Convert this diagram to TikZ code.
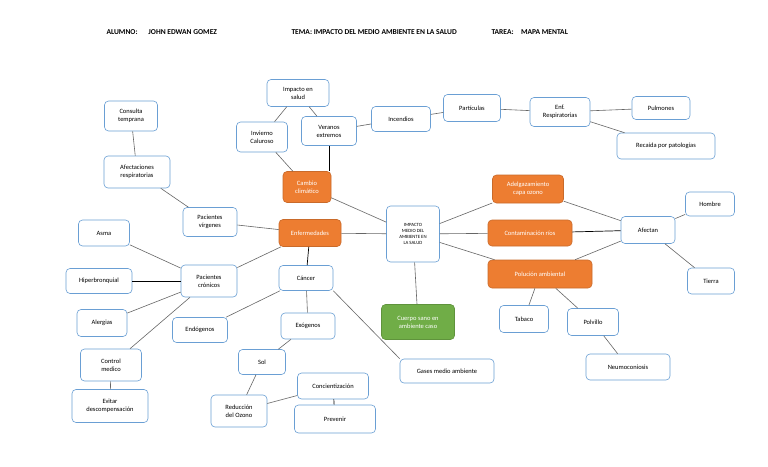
\documentclass[tikz,border=0pt]{standalone}
\usepackage{fontspec}
\setmainfont{Carlito}
\definecolor{borg}{HTML}{ED7D31}
\definecolor{bgrn}{HTML}{70AD47}
\definecolor{bblu}{HTML}{6A9FD4}
\begin{document}
\begin{tikzpicture}[x=1pt,y=-1pt,
  box/.style={draw=bblu, fill=white, rounded corners=4pt, line width=0.6pt,
    align=center, inner sep=1pt, font=\fontsize{6.5}{8}\selectfont},
  org/.style={box, draw=borg!85!black, fill=borg, text=white},
  grn/.style={box, draw=bgrn!85!black, fill=bgrn, text=white},
  ln/.style={draw=black!60, line width=0.6pt},
  dk/.style={draw=black, line width=0.7pt}]
\useasboundingbox (0,0) rectangle (768,466);
\fill[white] (0,0) rectangle (768,466);
\begin{scope}[font=\fontsize{7.5}{9}\selectfont\bfseries]
\node[anchor=west] (h1) at (103,32) {ALUMNO:\quad\ \ JOHN EDWAN GOMEZ};
\node[anchor=west] (h2) at (288,32) {TEMA: IMPACTO DEL MEDIO AMBIENTE EN LA SALUD};
\node[anchor=west] (h3) at (488,32) {TAREA:\quad MAPA MENTAL};
\end{scope}
% nodes
\node[box,minimum width=53,minimum height=56,font=\fontsize{4.8}{6.3}\selectfont] (c) at (413,234) {IMPACTO\\MEDIO DEL\\AMBIENTE EN\\LA SALUD};
\node[box,minimum width=62,minimum height=27] (is) at (298,93) {Impacto en\\salud};
\node[box,minimum width=51,minimum height=30] (inv) at (262,137) {Invierno\\Caluroso};
\node[box,minimum width=55,minimum height=29] (ver) at (329,131) {Veranos\\extremos};
\node[org,minimum width=48,minimum height=31] (cc) at (307,187) {Cambio\\climático};
\node[box,minimum width=59,minimum height=25] (inc) at (401,119) {Incendios};
\node[box,minimum width=57,minimum height=27] (par) at (472,108) {Partículas};
\node[box,minimum width=60,minimum height=29] (enf) at (560,112) {Enf.\\Respiratorias};
\node[box,minimum width=58,minimum height=23] (pul) at (661,108) {Pulmones};
\node[box,minimum width=98,minimum height=26] (rec) at (666,146) {Recaída por patologías};
\node[org,minimum width=71,minimum height=28] (ade) at (528,189) {Adelgazamiento\\capa ozono};
\node[org,minimum width=84,minimum height=26] (rio) at (530,233) {Contaminación ríos};
\node[org,minimum width=104,minimum height=28] (pol) at (540,274) {Polución ambiental};
\node[box,minimum width=54,minimum height=27] (afe) at (648,230) {Afectan};
\node[box,minimum width=49,minimum height=24] (hom) at (710,204) {Hombre};
\node[box,minimum width=47,minimum height=26] (tie) at (711,281) {Tierra};
\node[box,minimum width=49,minimum height=27] (tab) at (524,319) {Tabaco};
\node[box,minimum width=51,minimum height=27] (pvl) at (593,322) {Polvillo};
\node[box,minimum width=84,minimum height=26] (neu) at (628,367) {Neumoconiosis};
\node[grn,minimum width=73,minimum height=35] (cs) at (418,322) {Cuerpo sano en\\ambiente caso};
\node[box,minimum width=94,minimum height=24] (gas) at (447,371) {Gases medio ambiente};
\node[org,minimum width=62,minimum height=27] (en) at (310,233) {Enfermedades};
\node[box,minimum width=54,minimum height=25] (can) at (306,278) {Cáncer};
\node[box,minimum width=54,minimum height=26] (exo) at (308,326) {Exógenos};
\node[box,minimum width=55,minimum height=25] (end) at (200,330) {Endógenos};
\node[box,minimum width=47,minimum height=25] (sol) at (262,362) {Sol};
\node[box,minimum width=71,minimum height=26] (con) at (333,386) {Concientización};
\node[box,minimum width=56,minimum height=32] (red) at (239,411) {Reducción\\del Ozono};
\node[box,minimum width=81,minimum height=28] (pre) at (335,419) {Prevenir};
\node[box,minimum width=54,minimum height=29] (pv) at (210,222) {Pacientes\\vírgenes};
\node[box,minimum width=56,minimum height=32] (pc) at (209,281) {Pacientes\\crónicos};
\node[box,minimum width=53,minimum height=30] (ct) at (131,116) {Consulta\\temprana};
\node[box,minimum width=66,minimum height=32] (ar) at (137,172) {Afectaciones\\respiratorias};
\node[box,minimum width=51,minimum height=26] (asm) at (104,233) {Asma};
\node[box,minimum width=66,minimum height=25] (hip) at (99,281) {Hiperbronquial};
\node[box,minimum width=50,minimum height=27] (ale) at (102,323) {Alergias};
\node[box,minimum width=61,minimum height=32] (cm) at (111,365) {Control\\medico};
\node[box,minimum width=76,minimum height=33] (evi) at (110,406) {Evitar\\descompensación};
% connectors
\draw[ln] (cc) -- (c); \draw[ln] (en) -- (c); \draw[ln] (ade) -- (c);
\draw[ln] (rio) -- (c); \draw[ln] (pol) -- (c); \draw[ln] (cs) -- (c);
\draw[ln] (is) -- (inv); \draw[ln] (is) -- (ver);
\draw[ln] (inv) -- (cc); \draw[dk] (ver.south -| 329,0) -- (cc.north -| 329,0);
\draw[ln] (ver) -- (inc); \draw[ln] (inc) -- (par); \draw[ln] (par) -- (enf);
\draw[ln] (enf) -- (pul); \draw[ln] (enf) -- (rec);
\draw[ln] (ade) -- (afe); \draw[dk] (rio) -- (afe); \draw[ln] (pol) -- (afe);
\draw[ln] (afe) -- (hom); \draw[ln] (afe) -- (tie);
\draw[ln] (pol) -- (tab); \draw[ln] (pol) -- (pvl); \draw[ln] (pvl) -- (neu);
\draw[ln] (en) -- (pv); \draw[ln] (en) -- (pc); \draw[dk] (en) -- (can);
\draw[ln] (pv) -- (ar); \draw[ln] (ar) -- (ct);
\draw[ln] (pc) -- (asm); \draw[dk] (pc) -- (hip); \draw[ln] (pc) -- (ale); \draw[ln] (pc) -- (cm);
\draw[ln] (cm) -- (evi);
\draw[ln] (can) -- (end); \draw[ln] (can) -- (exo); \draw[ln] (can.south east) -- (gas.north west);
\draw[ln] (exo) -- (sol); \draw[ln] (sol) -- (red); \draw[ln] (red) -- (con); \draw[dk] (con) -- (pre);
\end{tikzpicture}
\end{document}
